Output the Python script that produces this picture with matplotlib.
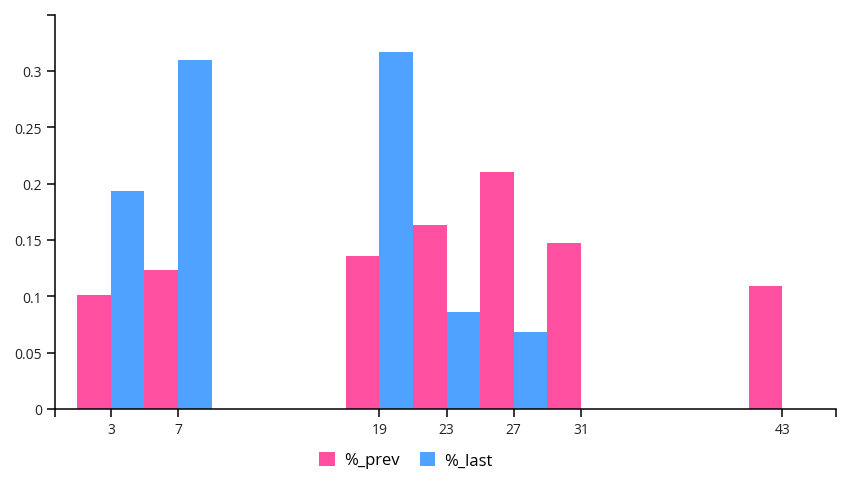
import matplotlib
matplotlib.use("Agg")
import matplotlib.pyplot as plt
from matplotlib.patches import Patch

plt.rcParams['font.family'] = ['Open Sans', 'DejaVu Sans']

bins = [3, 7, 19, 23, 27, 31, 43]
prev_vals = [0.101, 0.123, 0.136, 0.163, 0.210, 0.147, 0.109]
last_vals = [0.193, 0.310, 0.317, 0.086, 0.068, 0.0, 0.0]
series_names = ["%_prev", "%_last"]
colors = ["#FF4FA0", "#4FA2FF"]
yticks = [0, 0.05, 0.1, 0.15, 0.2, 0.25, 0.3]
ytick_labels = ["0", "0.05", "0.1", "0.15", "0.2", "0.25", "0.3"]

fig = plt.figure(figsize=(8.56, 4.89), dpi=100)
ax = fig.add_axes([55/856, 79/489, (836-55)/856, (410-16)/489])

ax.bar(bins, prev_vals, width=-2, align='edge', color=colors[0], linewidth=0)
ax.bar(bins, last_vals, width=2, align='edge', color=colors[1], linewidth=0)

xlim = (-0.33, 46.2)
ylim = (0, 0.3495)
ax.set_xlim(*xlim)
ax.set_ylim(*ylim)

for s in ['top', 'right']:
    ax.spines[s].set_visible(False)
for s in ['left', 'bottom']:
    ax.spines[s].set_linewidth(1.1)
    ax.spines[s].set_color('black')

ax.set_xticks(bins)
ax.set_xticklabels([str(b) for b in bins])
ax.set_yticks(yticks)
ax.set_yticklabels(ytick_labels)
ax.set_xticks(list(xlim), minor=True)
ax.set_yticks([ylim[1]], minor=True)
ax.tick_params(axis='both', which='both', length=6, width=1.1, color='black',
               labelsize=10, labelcolor='#222222')
ax.tick_params(axis='both', which='minor', labelbottom=False, labelleft=False)
ax.tick_params(axis='x', pad=3.5)
ax.tick_params(axis='y', pad=3.5)

handles = [Patch(facecolor=c, edgecolor='none') for c in colors]
fig.legend(handles, series_names, loc='center', bbox_to_anchor=(406/856, 1 - 461/489),
           ncol=2, frameon=False, fontsize=12, handlelength=0.95, handleheight=0.95,
           handletextpad=0.55, columnspacing=1.2, borderpad=0)

fig.savefig("out.png", dpi=100)
